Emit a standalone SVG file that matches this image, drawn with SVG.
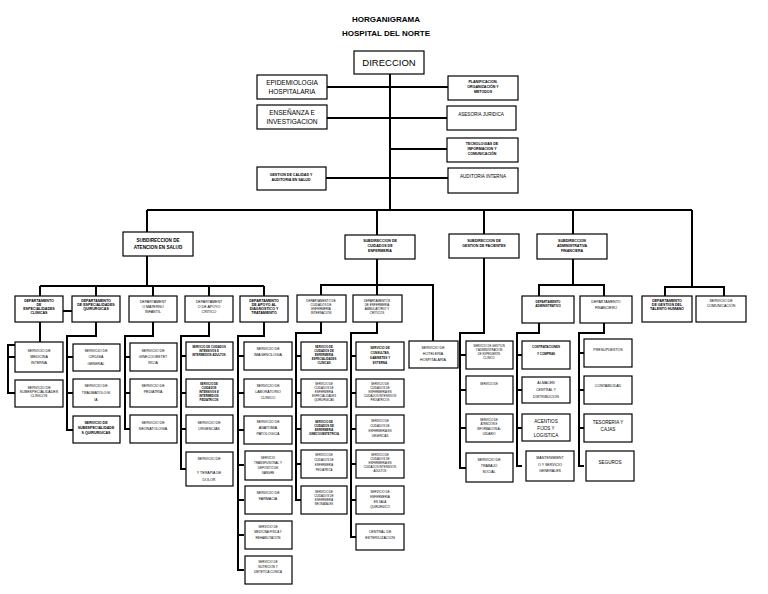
<svg xmlns="http://www.w3.org/2000/svg" width="768" height="594" viewBox="0 0 768 594">
<style>
rect{fill:#fff;stroke:#000;stroke-width:1.2}
text{font-family:"Liberation Sans",Arial,sans-serif;text-anchor:middle;fill:#000}
.c path{fill:none;stroke:#000;stroke-width:2}
.s{font-size:3.6px}
.m{font-size:4.6px}
.l{font-size:6.5px}
.b{font-weight:bold}
</style>
<rect x="0" y="0" width="768" height="594" style="stroke:none"/>
<text x="386" y="22" class="b" font-size="8">HORGANIGRAMA</text>
<text x="386" y="36" class="b" font-size="8">HOSPITAL DEL NORTE</text>
<g class="c">
<path d="M390 74V210M327 87H448M327 118H447M390 149H447M326 178H448"/>
<path d="M147 210H692M147 210V232M377 210V235M484 210V234M573 210V234M692 210V287H665V296M692 287H724V296"/>
<path d="M147 256V286M40 286H264M40 286V296M96 286V296M153 286V296M209 286V296M264 286V296M63 311H72"/>
<path d="M40 322V345H8V393H15M8 357H15"/>
<path d="M96 322V336H67V430H73M67 357H73M67 393H73"/>
<path d="M153 322V336H125V429H130M125 357H130M125 393H130"/>
<path d="M209 322V336H181V469H186M181 356H186M181 393H186M181 429H186"/>
<path d="M264 322V336H238V570H244M238 356H244M238 393H244M238 430H244M238 465H244M238 500H244M238 535H244"/>
<path d="M377 259V285H321V295M377 285H433V341M377 285V295"/>
<path d="M321 322V333H296V500H301M296 356H301M296 393H301M296 429H301M296 464H301"/>
<path d="M377 322V333H351V537H356M351 356H356M351 393H356M351 429H356M351 464H356M351 500H356"/>
<path d="M484 258V333H460V468H466M460 355H466M460 390H466M460 428H466"/>
<path d="M573 259V285H539V296M573 285H604V296"/>
<path d="M539 323V333H517V466H522M517 355H522M517 390H522M517 428H522"/>
<path d="M604 323V333H579V466H584M579 353H584M579 390H584M579 428H584"/>
</g>
<g id="direccion"><rect x="354" y="51" width="70" height="23"/><text x="389" y="66" font-size="9.5">DIRECCION</text></g>
<g id="epi"><rect x="257" y="75" width="70" height="24"/><text x="292" y="85" class="l">EPIDEMIOLOGIA</text><text x="292" y="94" class="l">HOSPITALARIA</text></g>
<g id="ens"><rect x="257" y="105" width="70" height="24"/><text x="292" y="115" class="l">ENSEÑANZA E</text><text x="292" y="124" class="l">INVESTIGACION</text></g>
<g id="cal"><rect x="257" y="167" width="69" height="23"/><text x="291" y="176" class="s b">GESTION DE CALIDAD Y</text><text x="291" y="181" class="s b">AUDITORIA EN SALUD</text></g>
<g id="plan"><rect x="448" y="76" width="70" height="24"/><text x="483" y="83" class="s b">PLANIFICACION,</text><text x="483" y="88" class="s b">ORGANIZACIÓN Y</text><text x="483" y="93" class="s b">METODOS</text></g>
<g id="ases"><rect x="447" y="106" width="69" height="24"/><text x="481" y="116" class="m">ASESORIA JURIDICA</text></g>
<g id="tec"><rect x="447" y="138" width="71" height="24"/><text x="482" y="145" class="s b">TECNOLOGIAS DE</text><text x="482" y="150" class="s b">INFORMACION Y</text><text x="482" y="155" class="s b">COMUNICACIÓN</text></g>
<g id="aud"><rect x="448" y="168" width="70" height="25"/><text x="483" y="178" class="m">AUDITORIA INTERNA</text></g>

<g id="sub1"><rect x="123" y="232" width="70" height="24"/><text x="158" y="242" class="m b">SUBDIRECCION DE</text><text x="158" y="249" class="m b">ATENCION EN SALUD</text></g>
<g id="sub2"><rect x="345" y="235" width="70" height="24"/><text x="380" y="242" class="s b">SUBDIRECCION DE</text><text x="380" y="247" class="s b">CUIDADOS DE</text><text x="380" y="252" class="s b">ENFERMERIA</text></g>
<g id="sub3"><rect x="449" y="234" width="70" height="24"/><text x="484" y="242" class="s b">SUBDIRECCION DE</text><text x="484" y="247" class="s b">GESTION DE PACIENTES</text></g>
<g id="sub4"><rect x="537" y="234" width="70" height="25"/><text x="572" y="242" class="s b">SUBDIRECCION</text><text x="572" y="247" class="s b">ADMINISTRATIVA</text><text x="572" y="252" class="s b">FINANCIERA</text></g>
<g id="talento"><rect x="642" y="296" width="50" height="26"/><text x="667" y="302" class="s b">DEPARTAMENTO</text><text x="667" y="306" class="s b">DE GESTION DEL</text><text x="667" y="310" class="s b">TALENTO HUMANO</text></g>
<g id="comun"><rect x="696" y="296" width="50" height="26"/><text x="721" y="302" class="s">SERVICIO DE</text><text x="721" y="307" class="s">COMUNICACIÓN</text></g>

<g id="d1"><rect x="15" y="296" width="48" height="26"/><text x="39" y="302" class="s b">DEPARTAMENTO</text><text x="39" y="306" class="s b">DE</text><text x="39" y="310" class="s b">ESPECIALIDADES</text><text x="39" y="314" class="s b">CLINICAS</text></g>
<g id="d2"><rect x="72" y="296" width="48" height="26"/><text x="96" y="302" class="s b">DEPARTAMENTO</text><text x="96" y="306" class="s b">DE ESPECIALIDADES</text><text x="96" y="310" class="s b">QUIRURGICAS</text></g>
<g id="d3"><rect x="129" y="296" width="48" height="26"/><text x="153" y="303" class="s">DEPARTAMENT</text><text x="153" y="308" class="s">O MATERNO</text><text x="153" y="313" class="s">INFANTIL</text></g>
<g id="d4"><rect x="185" y="296" width="48" height="26"/><text x="209" y="303" class="s">DEPARTAMENT</text><text x="209" y="308" class="s">O DE APOYO</text><text x="209" y="313" class="s">CRITICO</text></g>
<g id="d5"><rect x="240" y="296" width="48" height="26"/><text x="264" y="302" class="s b">DEPARTAMENTO</text><text x="264" y="306" class="s b">DE APOYO AL</text><text x="264" y="310" class="s b">DIAGNOSTICO Y</text><text x="264" y="314" class="s b">TRATAMIENTO</text></g>

<g id="d1a"><rect x="15" y="342" width="48" height="30"/><text x="39" y="352" class="s">SERVICIO DE</text><text x="39" y="358" class="s">MEDICINA</text><text x="39" y="364" class="s">INTERNA</text></g>
<g id="d1b"><rect x="15" y="380" width="48" height="27"/><text x="39" y="389" class="s">SERVICIO DE</text><text x="39" y="393" class="s">SUBESPECIALIDADES</text><text x="39" y="397" class="s">CLINICOS</text></g>
<g id="d2a"><rect x="73" y="344" width="47" height="27"/><text x="96" y="352" class="s">SERVICIO DE</text><text x="96" y="358" class="s">CIRUGIA</text><text x="96" y="365" class="s">GENERAL</text></g>
<g id="d2b"><rect x="73" y="379" width="47" height="28"/><text x="96" y="387" class="s">SERVICIO DE</text><text x="96" y="394" class="s">TRAUMATOLOGI</text><text x="96" y="401" class="s">IA</text></g>
<g id="d2c"><rect x="73" y="416" width="47" height="27"/><text x="96" y="424" class="s b">SERVICIO DE</text><text x="96" y="429" class="s b">SUBESPECIALIDADE</text><text x="96" y="434" class="s b">S QUIRURGICAS</text></g>
<g id="d3a"><rect x="130" y="343" width="47" height="28"/><text x="153" y="352" class="s">SERVICIO DE</text><text x="153" y="358" class="s">GINECOOBSTET</text><text x="153" y="364" class="s">RICIA</text></g>
<g id="d3b"><rect x="130" y="379" width="47" height="28"/><text x="153" y="387" class="s">SERVICIO DE</text><text x="153" y="393" class="s">PEDIATRIA</text></g>
<g id="d3c"><rect x="130" y="415" width="47" height="28"/><text x="153" y="424" class="s">SERVICIO DE</text><text x="153" y="430" class="s">NEONATOLOGIA</text></g>
<g id="d4a"><rect x="186" y="342" width="47" height="28"/><text x="209" y="348" font-size="2.8" class="b">SERVICIO DE CUIDADOS</text><text x="209" y="352" font-size="2.8" class="b">INTENSIVOS E</text><text x="209" y="356" font-size="2.8" class="b">INTERMEDIOS ADULTOS</text></g>
<g id="d4b"><rect x="186" y="379" width="47" height="28"/><text x="209" y="385" font-size="2.8" class="b">SERVICIO DE</text><text x="209" y="389" font-size="2.8" class="b">CUIDADOS</text><text x="209" y="393" font-size="2.8" class="b">INTENSIVOS E</text><text x="209" y="397" font-size="2.8" class="b">INTERMEDIOS</text><text x="209" y="401" font-size="2.8" class="b">PEDIATRICOS</text></g>
<g id="d4c"><rect x="186" y="415" width="47" height="28"/><text x="209" y="424" class="s">SERVICIO DE</text><text x="209" y="430" class="s">URGENCIAS</text></g>
<g id="d4d"><rect x="186" y="452" width="47" height="34"/><text x="209" y="460" class="s">SERVICIO DE</text><text x="209" y="474" class="s">Y TERAPIA DE</text><text x="209" y="481" class="s">DOLOR</text></g>
<g id="d5a"><rect x="244" y="342" width="48" height="28"/><text x="268" y="350" class="s">SERVICIO DE</text><text x="268" y="356" class="s">IMAGENOLOGIA</text></g>
<g id="d5b"><rect x="244" y="379" width="48" height="28"/><text x="268" y="387" class="s">SERVICIO DE</text><text x="268" y="393" class="s">LABORATORIO</text><text x="268" y="399" class="s">CLINICO</text></g>
<g id="d5c"><rect x="244" y="416" width="48" height="28"/><text x="268" y="423" class="s">SERVICIO DE</text><text x="268" y="429" class="s">ANATOMIA</text><text x="268" y="435" class="s">PATOLOGICA</text></g>
<g id="d5d"><rect x="245" y="451" width="47" height="29"/><text x="268" y="459" font-size="3">SERVICIO</text><text x="268" y="464" font-size="3">TRANSFUSIONAL Y</text><text x="268" y="469" font-size="3">DEPOSITO DE</text><text x="268" y="474" font-size="3">SANGRE</text></g>
<g id="d5e"><rect x="245" y="486" width="47" height="28"/><text x="268" y="494" class="s">SERVICIO DE</text><text x="268" y="500" class="s">FARMACIA</text></g>
<g id="d5f"><rect x="245" y="521" width="47" height="28"/><text x="268" y="528" font-size="3">SERVICIO DE</text><text x="268" y="533" font-size="3">MEDICINA FISICA Y</text><text x="268" y="539" font-size="3">REHABILITACION</text></g>
<g id="d5g"><rect x="245" y="556" width="47" height="28"/><text x="268" y="563" font-size="3">SERVICIO DE</text><text x="268" y="568" font-size="3">NUTRICION Y</text><text x="268" y="573" font-size="3">DIETETICA CLINICA</text></g>

<g id="c1"><rect x="297" y="295" width="49" height="27"/><text x="321" y="302" font-size="3">DEPARTAMENTO DE</text><text x="321" y="306" font-size="3">CUIDADOS DE</text><text x="321" y="310" font-size="3">ENFERMERIA</text><text x="321" y="314" font-size="3">INTERNACION</text></g>
<g id="c2"><rect x="353" y="295" width="49" height="27"/><text x="377" y="302" font-size="3">DEPARTAMENTOS</text><text x="377" y="306" font-size="3">DE ENFERMERIA</text><text x="377" y="310" font-size="3">AMBULATORIO Y</text><text x="377" y="314" font-size="3">CRITICOS</text></g>
<g id="hot"><rect x="409" y="341" width="49" height="27"/><text x="433" y="349" class="s">SERVICIO DE</text><text x="433" y="355" class="s">HOTELERIA</text><text x="433" y="361" class="s">HOSPITALARIA</text></g>
<g id="c1a"><rect x="301" y="342" width="46" height="28"/><text x="324" y="348" font-size="2.8" class="b">SERVICIO DE</text><text x="324" y="352" font-size="2.8" class="b">CUIDADOS DE</text><text x="324" y="356" font-size="2.8" class="b">ENFERMERIA</text><text x="324" y="360" font-size="2.8" class="b">ESPECIALIDADES</text><text x="324" y="364" font-size="2.8" class="b">CLINICAS</text></g>
<g id="c1b"><rect x="301" y="379" width="46" height="28"/><text x="324" y="385" font-size="2.8">SERVICIO DE</text><text x="324" y="389" font-size="2.8">CUIDADOS DE</text><text x="324" y="393" font-size="2.8">ENFERMERIA</text><text x="324" y="397" font-size="2.8">ESPECIALIDADES</text><text x="324" y="401" font-size="2.8">QUIRURGICAS</text></g>
<g id="c1c"><rect x="301" y="415" width="46" height="28"/><text x="324" y="423" font-size="2.8" class="b">SERVICIO DE</text><text x="324" y="427" font-size="2.8" class="b">CUIDADOS DE</text><text x="324" y="431" font-size="2.8" class="b">ENFERMERIA</text><text x="324" y="435" font-size="2.8" class="b">GINECOOBSTETRICIA</text></g>
<g id="c1d"><rect x="301" y="450" width="46" height="28"/><text x="324" y="456" font-size="2.8">SERVICIO DE</text><text x="324" y="461" font-size="2.8">CUIDADOS DE</text><text x="324" y="466" font-size="2.8">ENFERMERIA</text><text x="324" y="471" font-size="2.8">PEDIATRICA</text></g>
<g id="c1e"><rect x="301" y="486" width="46" height="28"/><text x="324" y="493" font-size="2.8">SERVICIO DE</text><text x="324" y="497" font-size="2.8">CUIDADOS DE</text><text x="324" y="501" font-size="2.8">ENFERMERIA</text><text x="324" y="505" font-size="2.8">NEONATALES</text></g>
<g id="c2a"><rect x="356" y="342" width="48" height="28"/><text x="380" y="349" font-size="3" class="b">SERVICIO DE</text><text x="380" y="354" font-size="3" class="b">CONSULTAS,</text><text x="380" y="359" font-size="3" class="b">GABINETES Y</text><text x="380" y="364" font-size="3" class="b">EXTERNA</text></g>
<g id="c2b"><rect x="356" y="379" width="48" height="28"/><text x="380" y="385" font-size="2.8">SERVICIO DE</text><text x="380" y="389" font-size="2.8">CUIDADOS DE</text><text x="380" y="393" font-size="2.8">ENFERMERIA EN</text><text x="380" y="397" font-size="2.8">CUIDADOS INTENSIVOS</text><text x="380" y="401" font-size="2.8">PEDIATRICOS</text></g>
<g id="c2c"><rect x="356" y="415" width="48" height="28"/><text x="380" y="422" font-size="2.8">SERVICIO DE</text><text x="380" y="427" font-size="2.8">CUIDADOS DE</text><text x="380" y="432" font-size="2.8">ENFERMERIA EN</text><text x="380" y="437" font-size="2.8">URGENCIAS</text></g>
<g id="c2d"><rect x="356" y="450" width="48" height="28"/><text x="380" y="456" font-size="2.8">SERVICIO DE</text><text x="380" y="460" font-size="2.8">CUIDADOS DE</text><text x="380" y="464" font-size="2.8">ENFERMERIA EN</text><text x="380" y="468" font-size="2.8">CUIDADOS INTENSIVOS</text><text x="380" y="472" font-size="2.8">ADULTOS</text></g>
<g id="c2e"><rect x="356" y="486" width="48" height="28"/><text x="380" y="493" font-size="3">SERVICIO DE</text><text x="380" y="498" font-size="3">ENFERMERIA</text><text x="380" y="503" font-size="3">EN SALA</text><text x="380" y="508" font-size="3">QUIRURGICO</text></g>
<g id="c2f"><rect x="356" y="524" width="48" height="26"/><text x="380" y="533" class="s">CENTRAL DE</text><text x="380" y="539" class="s">ESTERILIZACION</text></g>

<g id="p1"><rect x="466" y="341" width="47" height="28"/><text x="489" y="347" font-size="2.8">SERVICIO DE GESTION</text><text x="489" y="351" font-size="2.8">Y ADMINISTRACION</text><text x="489" y="355" font-size="2.8">DE EXPEDIENTE</text><text x="489" y="359" font-size="2.8">CLINICO</text></g>
<g id="p2"><rect x="466" y="376" width="47" height="28"/><text x="489" y="385" font-size="2.8">SERVICIO DE</text></g>
<g id="p3"><rect x="466" y="414" width="47" height="28"/><text x="489" y="421" font-size="2.8">SERVICIO DE</text><text x="489" y="425" font-size="2.8">ATENCION E</text><text x="489" y="430" font-size="2.8">INFORMACION AL</text><text x="489" y="435" font-size="2.8">USUARIO</text></g>
<g id="p4"><rect x="466" y="453" width="47" height="29"/><text x="489" y="461" class="s">SERVICIO DE</text><text x="489" y="467" class="s">TRABAJO</text><text x="489" y="473" class="s">SOCIAL</text></g>

<g id="fa"><rect x="522" y="296" width="52" height="27"/><text x="548" y="303" font-size="3" class="b">DEPARTAMENTO</text><text x="548" y="307" font-size="3" class="b">ADMINISTRATIVO</text></g>
<g id="ff"><rect x="580" y="296" width="52" height="27"/><text x="606" y="303" class="s">DEPARTAMENTO</text><text x="606" y="309" class="s">FINANCIERO</text></g>
<g id="a1"><rect x="522" y="341" width="48" height="28"/><text x="546" y="348" font-size="3" class="b">CONTRATACIONES</text><text x="546" y="355" font-size="3" class="b">Y COMPRAS</text></g>
<g id="a2"><rect x="522" y="377" width="48" height="26"/><text x="546" y="384" class="s">ALMACEN</text><text x="546" y="391" class="s">CENTRAL Y</text><text x="546" y="398" class="s">DISTRIBUCION</text></g>
<g id="a3"><rect x="522" y="414" width="48" height="27"/><text x="546" y="423" class="m">ACENTIOS</text><text x="546" y="430" class="m">FIJOS Y</text><text x="546" y="437" class="m">LOGISTICA</text></g>
<g id="a4"><rect x="526" y="451" width="48" height="30"/><text x="550" y="459" class="s">MANTENIMIENT</text><text x="550" y="466" class="s">O Y SERVICIO</text><text x="550" y="472" class="s">GENERALES</text></g>
<g id="f1"><rect x="584" y="339" width="48" height="28"/><text x="608" y="351" class="s">PRESUPUESTOS</text></g>
<g id="f2"><rect x="584" y="376" width="48" height="28"/><text x="608" y="387" class="s">CONTABILIDAD</text></g>
<g id="f3"><rect x="584" y="414" width="48" height="28"/><text x="608" y="424" class="m">TESORERIA Y</text><text x="608" y="431" class="m">CAJAS</text></g>
<g id="f4"><rect x="586" y="451" width="48" height="30"/><text x="610" y="464" class="m">SEGUROS</text></g>
</svg>
